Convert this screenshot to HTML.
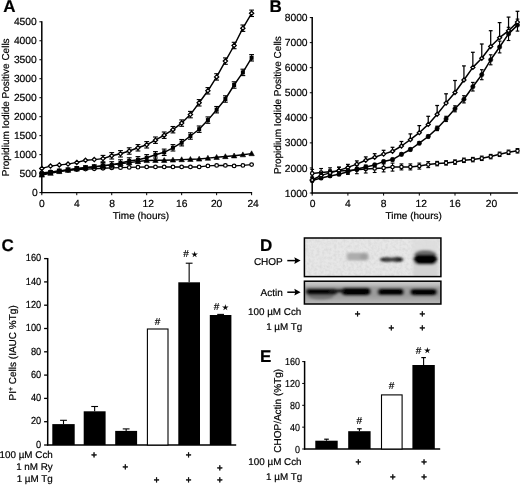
<!DOCTYPE html>
<html><head><meta charset="utf-8"><title>Figure</title>
<style>
html,body{margin:0;padding:0;background:#fff;}
body{width:520px;height:485px;overflow:hidden;}
svg{display:block;font-family:"Liberation Sans","DejaVu Sans",sans-serif;fill:#000;}
text{stroke:#000;stroke-width:0.2px;}
svg{filter:blur(0.5px);text-rendering:geometricPrecision;}
</style></head><body>
<svg width="520" height="485" viewBox="0 0 520 485">
<defs>
<filter id="b2" x="-20%" y="-50%" width="140%" height="200%"><feGaussianBlur stdDeviation="1.5 1.25"/></filter>
<filter id="nz" x="0" y="0" width="100%" height="100%"><feTurbulence type="fractalNoise" baseFrequency="0.35" numOctaves="2" seed="3" result="n"/><feColorMatrix in="n" type="matrix" values="0 0 0 0 0.5  0 0 0 0 0.5  0 0 0 0 0.5  1.6 0 0 0 -0.55"/></filter>
<linearGradient id="ag" x1="0" y1="0" x2="0" y2="1"><stop offset="0" stop-color="#cdcdcd"/><stop offset="0.3" stop-color="#b0b0b0"/><stop offset="0.75" stop-color="#a4a4a4"/><stop offset="1" stop-color="#b8b8b8"/></linearGradient>
<clipPath id="c1"><rect x="304.4" y="238.0" width="136.5" height="38.6"/></clipPath>
<clipPath id="c2"><rect x="304.4" y="281.2" width="136.5" height="22.8"/></clipPath>
</defs>
<rect width="520" height="485" fill="#fff"/>
<text x="3.2" y="11.9" font-size="17" text-anchor="start" font-weight="bold" >A</text>
<line x1="41.8" y1="21.3" x2="41.8" y2="193.2" stroke="#000" stroke-width="1.5"/>
<line x1="41.2" y1="192.6" x2="252.11" y2="192.6" stroke="#000" stroke-width="1.3"/>
<line x1="39.4" y1="192.6" x2="41.8" y2="192.6" stroke="#000" stroke-width="1.0"/>
<text x="37.8" y="196.2" font-size="10.3" text-anchor="end" font-weight="normal" >0</text>
<line x1="39.4" y1="173.62" x2="41.8" y2="173.62" stroke="#000" stroke-width="1.0"/>
<text x="36.8" y="177.22" font-size="10.3" text-anchor="end" font-weight="normal" >500</text>
<line x1="39.4" y1="154.64" x2="41.8" y2="154.64" stroke="#000" stroke-width="1.0"/>
<text x="36.8" y="158.24" font-size="10.3" text-anchor="end" font-weight="normal" >1000</text>
<line x1="39.4" y1="135.67" x2="41.8" y2="135.67" stroke="#000" stroke-width="1.0"/>
<text x="36.8" y="139.27" font-size="10.3" text-anchor="end" font-weight="normal" >1500</text>
<line x1="39.4" y1="116.69" x2="41.8" y2="116.69" stroke="#000" stroke-width="1.0"/>
<text x="36.8" y="120.29" font-size="10.3" text-anchor="end" font-weight="normal" >2000</text>
<line x1="39.4" y1="97.71" x2="41.8" y2="97.71" stroke="#000" stroke-width="1.0"/>
<text x="36.8" y="101.31" font-size="10.3" text-anchor="end" font-weight="normal" >2500</text>
<line x1="39.4" y1="78.73" x2="41.8" y2="78.73" stroke="#000" stroke-width="1.0"/>
<text x="36.8" y="82.33" font-size="10.3" text-anchor="end" font-weight="normal" >3000</text>
<line x1="39.4" y1="59.76" x2="41.8" y2="59.76" stroke="#000" stroke-width="1.0"/>
<text x="36.8" y="63.36" font-size="10.3" text-anchor="end" font-weight="normal" >3500</text>
<line x1="39.4" y1="40.78" x2="41.8" y2="40.78" stroke="#000" stroke-width="1.0"/>
<text x="36.8" y="44.38" font-size="10.3" text-anchor="end" font-weight="normal" >4000</text>
<line x1="39.4" y1="21.8" x2="41.8" y2="21.8" stroke="#000" stroke-width="1.0"/>
<text x="36.8" y="25.4" font-size="10.3" text-anchor="end" font-weight="normal" >4500</text>
<line x1="41.8" y1="192.6" x2="41.8" y2="195.2" stroke="#000" stroke-width="1.0"/>
<text x="41.8" y="206.9" font-size="10.3" text-anchor="middle" font-weight="normal" >0</text>
<line x1="76.77" y1="192.6" x2="76.77" y2="195.2" stroke="#000" stroke-width="1.0"/>
<text x="76.77" y="206.9" font-size="10.3" text-anchor="middle" font-weight="normal" >4</text>
<line x1="111.74" y1="192.6" x2="111.74" y2="195.2" stroke="#000" stroke-width="1.0"/>
<text x="112.24" y="206.9" font-size="10.3" text-anchor="middle" font-weight="normal" >8</text>
<line x1="146.7" y1="192.6" x2="146.7" y2="195.2" stroke="#000" stroke-width="1.0"/>
<text x="148.3" y="206.9" font-size="10.3" text-anchor="middle" font-weight="normal" >12</text>
<line x1="181.67" y1="192.6" x2="181.67" y2="195.2" stroke="#000" stroke-width="1.0"/>
<text x="181.67" y="206.9" font-size="10.3" text-anchor="middle" font-weight="normal" >16</text>
<line x1="216.64" y1="192.6" x2="216.64" y2="195.2" stroke="#000" stroke-width="1.0"/>
<text x="216.64" y="206.9" font-size="10.3" text-anchor="middle" font-weight="normal" >20</text>
<line x1="251.61" y1="192.6" x2="251.61" y2="195.2" stroke="#000" stroke-width="1.0"/>
<text x="253.11" y="206.9" font-size="10.3" text-anchor="middle" font-weight="normal" >24</text>
<text x="141" y="218.8" font-size="10" text-anchor="middle" font-weight="normal" >Time (hours)</text>
<text transform="translate(9.3 107.3) rotate(-90)" font-size="10" text-anchor="middle">Propidium Iodide Positive Cells</text>
<polyline points="41.8,173 50.54,172 59.28,171 68.03,170.25 76.77,169.5 85.51,169.1 94.25,168.7 102.99,168.3 111.74,167.9 120.48,167.65 129.22,167.4 137.96,167.15 146.7,166.9 155.45,166.9 164.19,166.9 172.93,166.9 181.67,166.9 190.41,166.9 199.16,166.9 207.9,165.9 216.64,165.4 225.38,165.4 234.12,165.9 242.87,165.4 251.61,164.6" fill="none" stroke="#000" stroke-width="1.45" stroke-linejoin="round"/>
<circle cx="41.8" cy="173" r="1.8" fill="#fff" stroke="#000" stroke-width="1.25"/>
<circle cx="50.54" cy="172" r="1.8" fill="#fff" stroke="#000" stroke-width="1.25"/>
<circle cx="59.28" cy="171" r="1.8" fill="#fff" stroke="#000" stroke-width="1.25"/>
<circle cx="68.03" cy="170.25" r="1.8" fill="#fff" stroke="#000" stroke-width="1.25"/>
<circle cx="76.77" cy="169.5" r="1.8" fill="#fff" stroke="#000" stroke-width="1.25"/>
<circle cx="85.51" cy="169.1" r="1.8" fill="#fff" stroke="#000" stroke-width="1.25"/>
<circle cx="94.25" cy="168.7" r="1.8" fill="#fff" stroke="#000" stroke-width="1.25"/>
<circle cx="102.99" cy="168.3" r="1.8" fill="#fff" stroke="#000" stroke-width="1.25"/>
<circle cx="111.74" cy="167.9" r="1.8" fill="#fff" stroke="#000" stroke-width="1.25"/>
<circle cx="120.48" cy="167.65" r="1.8" fill="#fff" stroke="#000" stroke-width="1.25"/>
<circle cx="129.22" cy="167.4" r="1.8" fill="#fff" stroke="#000" stroke-width="1.25"/>
<circle cx="137.96" cy="167.15" r="1.8" fill="#fff" stroke="#000" stroke-width="1.25"/>
<circle cx="146.7" cy="166.9" r="1.8" fill="#fff" stroke="#000" stroke-width="1.25"/>
<circle cx="155.45" cy="166.9" r="1.8" fill="#fff" stroke="#000" stroke-width="1.25"/>
<circle cx="164.19" cy="166.9" r="1.8" fill="#fff" stroke="#000" stroke-width="1.25"/>
<circle cx="172.93" cy="166.9" r="1.8" fill="#fff" stroke="#000" stroke-width="1.25"/>
<circle cx="181.67" cy="166.9" r="1.8" fill="#fff" stroke="#000" stroke-width="1.25"/>
<circle cx="190.41" cy="166.9" r="1.8" fill="#fff" stroke="#000" stroke-width="1.25"/>
<circle cx="199.16" cy="166.9" r="1.8" fill="#fff" stroke="#000" stroke-width="1.25"/>
<circle cx="207.9" cy="165.9" r="1.8" fill="#fff" stroke="#000" stroke-width="1.25"/>
<circle cx="216.64" cy="165.4" r="1.8" fill="#fff" stroke="#000" stroke-width="1.25"/>
<circle cx="225.38" cy="165.4" r="1.8" fill="#fff" stroke="#000" stroke-width="1.25"/>
<circle cx="234.12" cy="165.9" r="1.8" fill="#fff" stroke="#000" stroke-width="1.25"/>
<circle cx="242.87" cy="165.4" r="1.8" fill="#fff" stroke="#000" stroke-width="1.25"/>
<circle cx="251.61" cy="164.6" r="1.8" fill="#fff" stroke="#000" stroke-width="1.25"/>
<polyline points="41.8,175 50.54,173.25 59.28,171.5 68.03,170.25 76.77,169 85.51,167.95 94.25,166.9 102.99,165.85 111.74,164.8 120.48,163.73 129.22,162.65 137.96,161.57 146.7,160.5 155.45,160.3 164.19,160.3 172.93,159.95 181.67,159.6 190.41,159.3 199.16,159 207.9,158.15 216.64,157.3 225.38,156.55 234.12,155.8 242.87,154.7 251.61,153.6" fill="none" stroke="#000" stroke-width="1.45" stroke-linejoin="round"/>
<path d="M41.8 172.2L44.5 177.1L39.1 177.1Z" fill="#000" stroke="#000" stroke-width="0.6"/>
<path d="M50.54 170.45L53.24 175.35L47.84 175.35Z" fill="#000" stroke="#000" stroke-width="0.6"/>
<path d="M59.28 168.7L61.98 173.6L56.58 173.6Z" fill="#000" stroke="#000" stroke-width="0.6"/>
<path d="M68.03 167.45L70.73 172.35L65.33 172.35Z" fill="#000" stroke="#000" stroke-width="0.6"/>
<path d="M76.77 166.2L79.47 171.1L74.07 171.1Z" fill="#000" stroke="#000" stroke-width="0.6"/>
<path d="M85.51 165.15L88.21 170.05L82.81 170.05Z" fill="#000" stroke="#000" stroke-width="0.6"/>
<path d="M94.25 164.1L96.95 169L91.55 169Z" fill="#000" stroke="#000" stroke-width="0.6"/>
<path d="M102.99 163.05L105.69 167.95L100.29 167.95Z" fill="#000" stroke="#000" stroke-width="0.6"/>
<path d="M111.74 162L114.44 166.9L109.04 166.9Z" fill="#000" stroke="#000" stroke-width="0.6"/>
<path d="M120.48 160.93L123.18 165.83L117.78 165.83Z" fill="#000" stroke="#000" stroke-width="0.6"/>
<path d="M129.22 159.85L131.92 164.75L126.52 164.75Z" fill="#000" stroke="#000" stroke-width="0.6"/>
<path d="M137.96 158.77L140.66 163.67L135.26 163.67Z" fill="#000" stroke="#000" stroke-width="0.6"/>
<path d="M146.7 157.7L149.4 162.6L144 162.6Z" fill="#000" stroke="#000" stroke-width="0.6"/>
<path d="M155.45 157.5L158.15 162.4L152.75 162.4Z" fill="#000" stroke="#000" stroke-width="0.6"/>
<path d="M164.19 157.5L166.89 162.4L161.49 162.4Z" fill="#000" stroke="#000" stroke-width="0.6"/>
<path d="M172.93 157.15L175.63 162.05L170.23 162.05Z" fill="#000" stroke="#000" stroke-width="0.6"/>
<path d="M181.67 156.8L184.37 161.7L178.97 161.7Z" fill="#000" stroke="#000" stroke-width="0.6"/>
<path d="M190.41 156.5L193.11 161.4L187.71 161.4Z" fill="#000" stroke="#000" stroke-width="0.6"/>
<path d="M199.16 156.2L201.86 161.1L196.46 161.1Z" fill="#000" stroke="#000" stroke-width="0.6"/>
<path d="M207.9 155.35L210.6 160.25L205.2 160.25Z" fill="#000" stroke="#000" stroke-width="0.6"/>
<path d="M216.64 154.5L219.34 159.4L213.94 159.4Z" fill="#000" stroke="#000" stroke-width="0.6"/>
<path d="M225.38 153.75L228.08 158.65L222.68 158.65Z" fill="#000" stroke="#000" stroke-width="0.6"/>
<path d="M234.12 153L236.82 157.9L231.42 157.9Z" fill="#000" stroke="#000" stroke-width="0.6"/>
<path d="M242.87 151.9L245.57 156.8L240.17 156.8Z" fill="#000" stroke="#000" stroke-width="0.6"/>
<path d="M251.61 150.8L254.31 155.7L248.91 155.7Z" fill="#000" stroke="#000" stroke-width="0.6"/>
<polyline points="41.8,174.2 50.54,172.5 59.28,171 68.03,169.7 76.77,168.4 85.51,167.5 94.25,166.6 102.99,165.8 111.74,164.9 120.48,163 129.22,161 137.96,159.8 146.7,157.8 155.45,154.8 164.19,152.3 172.93,147.8 181.67,142.7 190.41,136 199.16,129.2 207.9,120.1 216.64,109.7 225.38,99 234.12,85 242.87,72.4 251.61,57.8" fill="none" stroke="#000" stroke-width="1.45" stroke-linejoin="round"/>
<rect x="39.4" y="171.8" width="4.8" height="4.8" fill="#000"/>
<rect x="48.14" y="170.1" width="4.8" height="4.8" fill="#000"/>
<rect x="56.88" y="168.6" width="4.8" height="4.8" fill="#000"/>
<rect x="65.63" y="167.3" width="4.8" height="4.8" fill="#000"/>
<rect x="74.37" y="166" width="4.8" height="4.8" fill="#000"/>
<rect x="83.11" y="165.1" width="4.8" height="4.8" fill="#000"/>
<rect x="91.85" y="164.2" width="4.8" height="4.8" fill="#000"/>
<line x1="102.99" y1="162.6" x2="102.99" y2="169" stroke="#000" stroke-width="1.1"/>
<line x1="100.59" y1="162.6" x2="105.39" y2="162.6" stroke="#000" stroke-width="1.1"/>
<line x1="100.59" y1="169" x2="105.39" y2="169" stroke="#000" stroke-width="1.1"/>
<rect x="100.59" y="163.4" width="4.8" height="4.8" fill="#000"/>
<line x1="111.74" y1="161.7" x2="111.74" y2="168.1" stroke="#000" stroke-width="1.1"/>
<line x1="109.34" y1="161.7" x2="114.14" y2="161.7" stroke="#000" stroke-width="1.1"/>
<line x1="109.34" y1="168.1" x2="114.14" y2="168.1" stroke="#000" stroke-width="1.1"/>
<rect x="109.74" y="162.9" width="4" height="4" fill="#000"/>
<line x1="120.48" y1="159.8" x2="120.48" y2="166.2" stroke="#000" stroke-width="1.1"/>
<line x1="118.08" y1="159.8" x2="122.88" y2="159.8" stroke="#000" stroke-width="1.1"/>
<line x1="118.08" y1="166.2" x2="122.88" y2="166.2" stroke="#000" stroke-width="1.1"/>
<rect x="118.48" y="161" width="4" height="4" fill="#000"/>
<line x1="129.22" y1="157.8" x2="129.22" y2="164.2" stroke="#000" stroke-width="1.1"/>
<line x1="126.82" y1="157.8" x2="131.62" y2="157.8" stroke="#000" stroke-width="1.1"/>
<line x1="126.82" y1="164.2" x2="131.62" y2="164.2" stroke="#000" stroke-width="1.1"/>
<rect x="127.22" y="159" width="4" height="4" fill="#000"/>
<line x1="137.96" y1="156.6" x2="137.96" y2="163" stroke="#000" stroke-width="1.1"/>
<line x1="135.56" y1="156.6" x2="140.36" y2="156.6" stroke="#000" stroke-width="1.1"/>
<line x1="135.56" y1="163" x2="140.36" y2="163" stroke="#000" stroke-width="1.1"/>
<rect x="135.96" y="157.8" width="4" height="4" fill="#000"/>
<line x1="146.7" y1="154.6" x2="146.7" y2="161" stroke="#000" stroke-width="1.1"/>
<line x1="144.3" y1="154.6" x2="149.1" y2="154.6" stroke="#000" stroke-width="1.1"/>
<line x1="144.3" y1="161" x2="149.1" y2="161" stroke="#000" stroke-width="1.1"/>
<rect x="144.7" y="155.8" width="4" height="4" fill="#000"/>
<line x1="155.45" y1="151.6" x2="155.45" y2="158" stroke="#000" stroke-width="1.1"/>
<line x1="153.05" y1="151.6" x2="157.85" y2="151.6" stroke="#000" stroke-width="1.1"/>
<line x1="153.05" y1="158" x2="157.85" y2="158" stroke="#000" stroke-width="1.1"/>
<rect x="153.45" y="152.8" width="4" height="4" fill="#000"/>
<line x1="164.19" y1="149.1" x2="164.19" y2="155.5" stroke="#000" stroke-width="1.1"/>
<line x1="161.79" y1="149.1" x2="166.59" y2="149.1" stroke="#000" stroke-width="1.1"/>
<line x1="161.79" y1="155.5" x2="166.59" y2="155.5" stroke="#000" stroke-width="1.1"/>
<rect x="162.19" y="150.3" width="4" height="4" fill="#000"/>
<line x1="172.93" y1="144.6" x2="172.93" y2="151" stroke="#000" stroke-width="1.1"/>
<line x1="170.53" y1="144.6" x2="175.33" y2="144.6" stroke="#000" stroke-width="1.1"/>
<line x1="170.53" y1="151" x2="175.33" y2="151" stroke="#000" stroke-width="1.1"/>
<rect x="170.93" y="145.8" width="4" height="4" fill="#000"/>
<line x1="181.67" y1="139.5" x2="181.67" y2="145.9" stroke="#000" stroke-width="1.1"/>
<line x1="179.27" y1="139.5" x2="184.07" y2="139.5" stroke="#000" stroke-width="1.1"/>
<line x1="179.27" y1="145.9" x2="184.07" y2="145.9" stroke="#000" stroke-width="1.1"/>
<rect x="179.67" y="140.7" width="4" height="4" fill="#000"/>
<line x1="190.41" y1="132.8" x2="190.41" y2="139.2" stroke="#000" stroke-width="1.1"/>
<line x1="188.01" y1="132.8" x2="192.81" y2="132.8" stroke="#000" stroke-width="1.1"/>
<line x1="188.01" y1="139.2" x2="192.81" y2="139.2" stroke="#000" stroke-width="1.1"/>
<rect x="188.41" y="134" width="4" height="4" fill="#000"/>
<line x1="199.16" y1="126" x2="199.16" y2="132.4" stroke="#000" stroke-width="1.1"/>
<line x1="196.76" y1="126" x2="201.56" y2="126" stroke="#000" stroke-width="1.1"/>
<line x1="196.76" y1="132.4" x2="201.56" y2="132.4" stroke="#000" stroke-width="1.1"/>
<rect x="197.16" y="127.2" width="4" height="4" fill="#000"/>
<line x1="207.9" y1="116.9" x2="207.9" y2="123.3" stroke="#000" stroke-width="1.1"/>
<line x1="205.5" y1="116.9" x2="210.3" y2="116.9" stroke="#000" stroke-width="1.1"/>
<line x1="205.5" y1="123.3" x2="210.3" y2="123.3" stroke="#000" stroke-width="1.1"/>
<rect x="205.9" y="118.1" width="4" height="4" fill="#000"/>
<line x1="216.64" y1="106.5" x2="216.64" y2="112.9" stroke="#000" stroke-width="1.1"/>
<line x1="214.24" y1="106.5" x2="219.04" y2="106.5" stroke="#000" stroke-width="1.1"/>
<line x1="214.24" y1="112.9" x2="219.04" y2="112.9" stroke="#000" stroke-width="1.1"/>
<rect x="214.64" y="107.7" width="4" height="4" fill="#000"/>
<line x1="225.38" y1="95.8" x2="225.38" y2="102.2" stroke="#000" stroke-width="1.1"/>
<line x1="222.98" y1="95.8" x2="227.78" y2="95.8" stroke="#000" stroke-width="1.1"/>
<line x1="222.98" y1="102.2" x2="227.78" y2="102.2" stroke="#000" stroke-width="1.1"/>
<rect x="223.38" y="97" width="4" height="4" fill="#000"/>
<line x1="234.12" y1="81.8" x2="234.12" y2="88.2" stroke="#000" stroke-width="1.1"/>
<line x1="231.72" y1="81.8" x2="236.52" y2="81.8" stroke="#000" stroke-width="1.1"/>
<line x1="231.72" y1="88.2" x2="236.52" y2="88.2" stroke="#000" stroke-width="1.1"/>
<rect x="232.12" y="83" width="4" height="4" fill="#000"/>
<line x1="242.87" y1="69.2" x2="242.87" y2="75.6" stroke="#000" stroke-width="1.1"/>
<line x1="240.47" y1="69.2" x2="245.27" y2="69.2" stroke="#000" stroke-width="1.1"/>
<line x1="240.47" y1="75.6" x2="245.27" y2="75.6" stroke="#000" stroke-width="1.1"/>
<rect x="240.87" y="70.4" width="4" height="4" fill="#000"/>
<line x1="251.61" y1="54.6" x2="251.61" y2="61" stroke="#000" stroke-width="1.1"/>
<line x1="249.21" y1="54.6" x2="254.01" y2="54.6" stroke="#000" stroke-width="1.1"/>
<line x1="249.21" y1="61" x2="254.01" y2="61" stroke="#000" stroke-width="1.1"/>
<rect x="249.61" y="55.8" width="4" height="4" fill="#000"/>
<polyline points="41.8,168.4 50.54,166.1 59.28,164.9 68.03,164.1 76.77,162.4 85.51,160.3 94.25,159.6 102.99,158.6 111.74,155.8 120.48,153.8 129.22,151 137.96,147.8 146.7,144.8 155.45,140.2 164.19,135.2 172.93,129.7 181.67,123.1 190.41,114.6 199.16,102.8 207.9,90.8 216.64,76.9 225.38,61.1 234.12,45.5 242.87,28.2 251.61,13.3" fill="none" stroke="#000" stroke-width="1.45" stroke-linejoin="round"/>
<path d="M41.8 166.3L43.9 168.4L41.8 170.5L39.7 168.4Z" fill="#fff" stroke="#000" stroke-width="1.3"/>
<path d="M50.54 164L52.64 166.1L50.54 168.2L48.44 166.1Z" fill="#fff" stroke="#000" stroke-width="1.3"/>
<path d="M59.28 162.8L61.38 164.9L59.28 167L57.18 164.9Z" fill="#fff" stroke="#000" stroke-width="1.3"/>
<path d="M68.03 162L70.13 164.1L68.03 166.2L65.93 164.1Z" fill="#fff" stroke="#000" stroke-width="1.3"/>
<path d="M76.77 160.3L78.87 162.4L76.77 164.5L74.67 162.4Z" fill="#fff" stroke="#000" stroke-width="1.3"/>
<path d="M85.51 158.2L87.61 160.3L85.51 162.4L83.41 160.3Z" fill="#fff" stroke="#000" stroke-width="1.3"/>
<path d="M94.25 157.5L96.35 159.6L94.25 161.7L92.15 159.6Z" fill="#fff" stroke="#000" stroke-width="1.3"/>
<line x1="102.99" y1="155.4" x2="102.99" y2="161.8" stroke="#000" stroke-width="1.1"/>
<line x1="100.59" y1="155.4" x2="105.39" y2="155.4" stroke="#000" stroke-width="1.1"/>
<line x1="100.59" y1="161.8" x2="105.39" y2="161.8" stroke="#000" stroke-width="1.1"/>
<path d="M102.99 156.5L105.09 158.6L102.99 160.7L100.89 158.6Z" fill="#fff" stroke="#000" stroke-width="1.3"/>
<line x1="111.74" y1="152.6" x2="111.74" y2="159" stroke="#000" stroke-width="1.1"/>
<line x1="109.34" y1="152.6" x2="114.14" y2="152.6" stroke="#000" stroke-width="1.1"/>
<line x1="109.34" y1="159" x2="114.14" y2="159" stroke="#000" stroke-width="1.1"/>
<path d="M111.74 153.7L113.84 155.8L111.74 157.9L109.64 155.8Z" fill="#fff" stroke="#000" stroke-width="1.3"/>
<line x1="120.48" y1="150.6" x2="120.48" y2="157" stroke="#000" stroke-width="1.1"/>
<line x1="118.08" y1="150.6" x2="122.88" y2="150.6" stroke="#000" stroke-width="1.1"/>
<line x1="118.08" y1="157" x2="122.88" y2="157" stroke="#000" stroke-width="1.1"/>
<path d="M120.48 151.7L122.58 153.8L120.48 155.9L118.38 153.8Z" fill="#fff" stroke="#000" stroke-width="1.3"/>
<line x1="129.22" y1="147.8" x2="129.22" y2="154.2" stroke="#000" stroke-width="1.1"/>
<line x1="126.82" y1="147.8" x2="131.62" y2="147.8" stroke="#000" stroke-width="1.1"/>
<line x1="126.82" y1="154.2" x2="131.62" y2="154.2" stroke="#000" stroke-width="1.1"/>
<path d="M129.22 148.9L131.32 151L129.22 153.1L127.12 151Z" fill="#fff" stroke="#000" stroke-width="1.3"/>
<line x1="137.96" y1="144.6" x2="137.96" y2="151" stroke="#000" stroke-width="1.1"/>
<line x1="135.56" y1="144.6" x2="140.36" y2="144.6" stroke="#000" stroke-width="1.1"/>
<line x1="135.56" y1="151" x2="140.36" y2="151" stroke="#000" stroke-width="1.1"/>
<path d="M137.96 145.7L140.06 147.8L137.96 149.9L135.86 147.8Z" fill="#fff" stroke="#000" stroke-width="1.3"/>
<line x1="146.7" y1="141.6" x2="146.7" y2="148" stroke="#000" stroke-width="1.1"/>
<line x1="144.3" y1="141.6" x2="149.1" y2="141.6" stroke="#000" stroke-width="1.1"/>
<line x1="144.3" y1="148" x2="149.1" y2="148" stroke="#000" stroke-width="1.1"/>
<path d="M146.7 142.7L148.8 144.8L146.7 146.9L144.6 144.8Z" fill="#fff" stroke="#000" stroke-width="1.3"/>
<line x1="155.45" y1="137" x2="155.45" y2="143.4" stroke="#000" stroke-width="1.1"/>
<line x1="153.05" y1="137" x2="157.85" y2="137" stroke="#000" stroke-width="1.1"/>
<line x1="153.05" y1="143.4" x2="157.85" y2="143.4" stroke="#000" stroke-width="1.1"/>
<path d="M155.45 138.1L157.55 140.2L155.45 142.3L153.35 140.2Z" fill="#fff" stroke="#000" stroke-width="1.3"/>
<line x1="164.19" y1="132" x2="164.19" y2="138.4" stroke="#000" stroke-width="1.1"/>
<line x1="161.79" y1="132" x2="166.59" y2="132" stroke="#000" stroke-width="1.1"/>
<line x1="161.79" y1="138.4" x2="166.59" y2="138.4" stroke="#000" stroke-width="1.1"/>
<path d="M164.19 133.1L166.29 135.2L164.19 137.3L162.09 135.2Z" fill="#fff" stroke="#000" stroke-width="1.3"/>
<line x1="172.93" y1="126.5" x2="172.93" y2="132.9" stroke="#000" stroke-width="1.1"/>
<line x1="170.53" y1="126.5" x2="175.33" y2="126.5" stroke="#000" stroke-width="1.1"/>
<line x1="170.53" y1="132.9" x2="175.33" y2="132.9" stroke="#000" stroke-width="1.1"/>
<path d="M172.93 127.6L175.03 129.7L172.93 131.8L170.83 129.7Z" fill="#fff" stroke="#000" stroke-width="1.3"/>
<line x1="181.67" y1="119.9" x2="181.67" y2="126.3" stroke="#000" stroke-width="1.1"/>
<line x1="179.27" y1="119.9" x2="184.07" y2="119.9" stroke="#000" stroke-width="1.1"/>
<line x1="179.27" y1="126.3" x2="184.07" y2="126.3" stroke="#000" stroke-width="1.1"/>
<path d="M181.67 121L183.77 123.1L181.67 125.2L179.57 123.1Z" fill="#fff" stroke="#000" stroke-width="1.3"/>
<line x1="190.41" y1="111.4" x2="190.41" y2="117.8" stroke="#000" stroke-width="1.1"/>
<line x1="188.01" y1="111.4" x2="192.81" y2="111.4" stroke="#000" stroke-width="1.1"/>
<line x1="188.01" y1="117.8" x2="192.81" y2="117.8" stroke="#000" stroke-width="1.1"/>
<path d="M190.41 112.5L192.51 114.6L190.41 116.7L188.31 114.6Z" fill="#fff" stroke="#000" stroke-width="1.3"/>
<line x1="199.16" y1="99.6" x2="199.16" y2="106" stroke="#000" stroke-width="1.1"/>
<line x1="196.76" y1="99.6" x2="201.56" y2="99.6" stroke="#000" stroke-width="1.1"/>
<line x1="196.76" y1="106" x2="201.56" y2="106" stroke="#000" stroke-width="1.1"/>
<path d="M199.16 100.7L201.26 102.8L199.16 104.9L197.06 102.8Z" fill="#fff" stroke="#000" stroke-width="1.3"/>
<line x1="207.9" y1="87.6" x2="207.9" y2="94" stroke="#000" stroke-width="1.1"/>
<line x1="205.5" y1="87.6" x2="210.3" y2="87.6" stroke="#000" stroke-width="1.1"/>
<line x1="205.5" y1="94" x2="210.3" y2="94" stroke="#000" stroke-width="1.1"/>
<path d="M207.9 88.7L210 90.8L207.9 92.9L205.8 90.8Z" fill="#fff" stroke="#000" stroke-width="1.3"/>
<line x1="216.64" y1="73.7" x2="216.64" y2="80.1" stroke="#000" stroke-width="1.1"/>
<line x1="214.24" y1="73.7" x2="219.04" y2="73.7" stroke="#000" stroke-width="1.1"/>
<line x1="214.24" y1="80.1" x2="219.04" y2="80.1" stroke="#000" stroke-width="1.1"/>
<path d="M216.64 74.8L218.74 76.9L216.64 79L214.54 76.9Z" fill="#fff" stroke="#000" stroke-width="1.3"/>
<line x1="225.38" y1="57.9" x2="225.38" y2="64.3" stroke="#000" stroke-width="1.1"/>
<line x1="222.98" y1="57.9" x2="227.78" y2="57.9" stroke="#000" stroke-width="1.1"/>
<line x1="222.98" y1="64.3" x2="227.78" y2="64.3" stroke="#000" stroke-width="1.1"/>
<path d="M225.38 59L227.48 61.1L225.38 63.2L223.28 61.1Z" fill="#fff" stroke="#000" stroke-width="1.3"/>
<line x1="234.12" y1="42.3" x2="234.12" y2="48.7" stroke="#000" stroke-width="1.1"/>
<line x1="231.72" y1="42.3" x2="236.52" y2="42.3" stroke="#000" stroke-width="1.1"/>
<line x1="231.72" y1="48.7" x2="236.52" y2="48.7" stroke="#000" stroke-width="1.1"/>
<path d="M234.12 43.4L236.22 45.5L234.12 47.6L232.02 45.5Z" fill="#fff" stroke="#000" stroke-width="1.3"/>
<line x1="242.87" y1="25" x2="242.87" y2="31.4" stroke="#000" stroke-width="1.1"/>
<line x1="240.47" y1="25" x2="245.27" y2="25" stroke="#000" stroke-width="1.1"/>
<line x1="240.47" y1="31.4" x2="245.27" y2="31.4" stroke="#000" stroke-width="1.1"/>
<path d="M242.87 26.1L244.97 28.2L242.87 30.3L240.77 28.2Z" fill="#fff" stroke="#000" stroke-width="1.3"/>
<line x1="251.61" y1="10.1" x2="251.61" y2="16.5" stroke="#000" stroke-width="1.1"/>
<line x1="249.21" y1="10.1" x2="254.01" y2="10.1" stroke="#000" stroke-width="1.1"/>
<line x1="249.21" y1="16.5" x2="254.01" y2="16.5" stroke="#000" stroke-width="1.1"/>
<path d="M251.61 11.2L253.71 13.3L251.61 15.4L249.51 13.3Z" fill="#fff" stroke="#000" stroke-width="1.3"/>
<text x="269.6" y="11.9" font-size="17" text-anchor="start" font-weight="bold" >B</text>
<line x1="312.2" y1="17" x2="312.2" y2="193.6" stroke="#000" stroke-width="1.5"/>
<line x1="311.6" y1="193" x2="517.9" y2="193" stroke="#000" stroke-width="1.3"/>
<line x1="309.8" y1="193" x2="312.2" y2="193" stroke="#000" stroke-width="1.0"/>
<text x="307.6" y="196.6" font-size="10.3" text-anchor="end" font-weight="normal" >1000</text>
<line x1="309.8" y1="167.94" x2="312.2" y2="167.94" stroke="#000" stroke-width="1.0"/>
<text x="307.6" y="171.54" font-size="10.3" text-anchor="end" font-weight="normal" >2000</text>
<line x1="309.8" y1="142.88" x2="312.2" y2="142.88" stroke="#000" stroke-width="1.0"/>
<text x="307.6" y="146.48" font-size="10.3" text-anchor="end" font-weight="normal" >3000</text>
<line x1="309.8" y1="117.82" x2="312.2" y2="117.82" stroke="#000" stroke-width="1.0"/>
<text x="307.6" y="121.42" font-size="10.3" text-anchor="end" font-weight="normal" >4000</text>
<line x1="309.8" y1="92.76" x2="312.2" y2="92.76" stroke="#000" stroke-width="1.0"/>
<text x="307.6" y="96.36" font-size="10.3" text-anchor="end" font-weight="normal" >5000</text>
<line x1="309.8" y1="67.7" x2="312.2" y2="67.7" stroke="#000" stroke-width="1.0"/>
<text x="307.6" y="71.3" font-size="10.3" text-anchor="end" font-weight="normal" >6000</text>
<line x1="309.8" y1="42.64" x2="312.2" y2="42.64" stroke="#000" stroke-width="1.0"/>
<text x="307.6" y="46.24" font-size="10.3" text-anchor="end" font-weight="normal" >7000</text>
<line x1="309.8" y1="17.58" x2="312.2" y2="17.58" stroke="#000" stroke-width="1.0"/>
<text x="307.6" y="21.18" font-size="10.3" text-anchor="end" font-weight="normal" >8000</text>
<line x1="312.2" y1="193" x2="312.2" y2="195.6" stroke="#000" stroke-width="1.0"/>
<text x="312.6" y="206.9" font-size="10.3" text-anchor="middle" font-weight="normal" >0</text>
<line x1="347.9" y1="193" x2="347.9" y2="195.6" stroke="#000" stroke-width="1.0"/>
<text x="347.9" y="206.9" font-size="10.3" text-anchor="middle" font-weight="normal" >4</text>
<line x1="383.6" y1="193" x2="383.6" y2="195.6" stroke="#000" stroke-width="1.0"/>
<text x="383.6" y="206.9" font-size="10.3" text-anchor="middle" font-weight="normal" >8</text>
<line x1="419.3" y1="193" x2="419.3" y2="195.6" stroke="#000" stroke-width="1.0"/>
<text x="421.3" y="206.9" font-size="10.3" text-anchor="middle" font-weight="normal" >12</text>
<line x1="455" y1="193" x2="455" y2="195.6" stroke="#000" stroke-width="1.0"/>
<text x="455" y="206.9" font-size="10.3" text-anchor="middle" font-weight="normal" >16</text>
<line x1="490.7" y1="193" x2="490.7" y2="195.6" stroke="#000" stroke-width="1.0"/>
<text x="491.5" y="206.9" font-size="10.3" text-anchor="middle" font-weight="normal" >20</text>
<text x="413.7" y="218.8" font-size="10" text-anchor="middle" font-weight="normal" >Time (hours)</text>
<text transform="translate(281 105.1) rotate(-90)" font-size="10" text-anchor="middle">Propidium Iodide Positive Cells</text>
<polyline points="312.2,173.4 321.12,172.5 330.05,171.8 338.97,171 347.9,170.4 356.82,169.7 365.75,169 374.68,168.5 383.6,167.9 392.52,167.1 401.45,166.9 410.38,166.9 419.3,166.1 428.23,164.6 437.15,163.6 446.07,162.9 455,162.1 463.93,160.3 472.85,159.6 481.77,158.3 490.7,156.6 499.62,154.3 508.55,152.3 517.48,150.8" fill="none" stroke="#000" stroke-width="1.5" stroke-linejoin="round"/>
<line x1="312.2" y1="169.4" x2="312.2" y2="177.4" stroke="#000" stroke-width="1.1"/>
<line x1="310.3" y1="169.4" x2="314.1" y2="169.4" stroke="#000" stroke-width="1.1"/>
<line x1="310.3" y1="177.4" x2="314.1" y2="177.4" stroke="#000" stroke-width="1.1"/>
<circle cx="312.2" cy="173.4" r="1.7" fill="#fff" stroke="#000" stroke-width="1.25"/>
<line x1="321.12" y1="168.5" x2="321.12" y2="176.5" stroke="#000" stroke-width="1.1"/>
<line x1="319.23" y1="168.5" x2="323.02" y2="168.5" stroke="#000" stroke-width="1.1"/>
<line x1="319.23" y1="176.5" x2="323.02" y2="176.5" stroke="#000" stroke-width="1.1"/>
<circle cx="321.12" cy="172.5" r="1.7" fill="#fff" stroke="#000" stroke-width="1.25"/>
<line x1="330.05" y1="167.8" x2="330.05" y2="175.8" stroke="#000" stroke-width="1.1"/>
<line x1="328.15" y1="167.8" x2="331.95" y2="167.8" stroke="#000" stroke-width="1.1"/>
<line x1="328.15" y1="175.8" x2="331.95" y2="175.8" stroke="#000" stroke-width="1.1"/>
<circle cx="330.05" cy="171.8" r="1.7" fill="#fff" stroke="#000" stroke-width="1.25"/>
<line x1="338.97" y1="167" x2="338.97" y2="175" stroke="#000" stroke-width="1.1"/>
<line x1="337.07" y1="167" x2="340.87" y2="167" stroke="#000" stroke-width="1.1"/>
<line x1="337.07" y1="175" x2="340.87" y2="175" stroke="#000" stroke-width="1.1"/>
<circle cx="338.97" cy="171" r="1.7" fill="#fff" stroke="#000" stroke-width="1.25"/>
<line x1="347.9" y1="166.4" x2="347.9" y2="174.4" stroke="#000" stroke-width="1.1"/>
<line x1="346" y1="166.4" x2="349.8" y2="166.4" stroke="#000" stroke-width="1.1"/>
<line x1="346" y1="174.4" x2="349.8" y2="174.4" stroke="#000" stroke-width="1.1"/>
<circle cx="347.9" cy="170.4" r="1.7" fill="#fff" stroke="#000" stroke-width="1.25"/>
<line x1="356.82" y1="165.7" x2="356.82" y2="173.7" stroke="#000" stroke-width="1.1"/>
<line x1="354.93" y1="165.7" x2="358.72" y2="165.7" stroke="#000" stroke-width="1.1"/>
<line x1="354.93" y1="173.7" x2="358.72" y2="173.7" stroke="#000" stroke-width="1.1"/>
<circle cx="356.82" cy="169.7" r="1.7" fill="#fff" stroke="#000" stroke-width="1.25"/>
<line x1="365.75" y1="165" x2="365.75" y2="173" stroke="#000" stroke-width="1.1"/>
<line x1="363.85" y1="165" x2="367.65" y2="165" stroke="#000" stroke-width="1.1"/>
<line x1="363.85" y1="173" x2="367.65" y2="173" stroke="#000" stroke-width="1.1"/>
<circle cx="365.75" cy="169" r="1.7" fill="#fff" stroke="#000" stroke-width="1.25"/>
<line x1="374.68" y1="164.5" x2="374.68" y2="172.5" stroke="#000" stroke-width="1.1"/>
<line x1="372.78" y1="164.5" x2="376.57" y2="164.5" stroke="#000" stroke-width="1.1"/>
<line x1="372.78" y1="172.5" x2="376.57" y2="172.5" stroke="#000" stroke-width="1.1"/>
<circle cx="374.68" cy="168.5" r="1.7" fill="#fff" stroke="#000" stroke-width="1.25"/>
<line x1="383.6" y1="163.9" x2="383.6" y2="171.9" stroke="#000" stroke-width="1.1"/>
<line x1="381.7" y1="163.9" x2="385.5" y2="163.9" stroke="#000" stroke-width="1.1"/>
<line x1="381.7" y1="171.9" x2="385.5" y2="171.9" stroke="#000" stroke-width="1.1"/>
<circle cx="383.6" cy="167.9" r="1.7" fill="#fff" stroke="#000" stroke-width="1.25"/>
<line x1="392.52" y1="163.1" x2="392.52" y2="171.1" stroke="#000" stroke-width="1.1"/>
<line x1="390.62" y1="163.1" x2="394.42" y2="163.1" stroke="#000" stroke-width="1.1"/>
<line x1="390.62" y1="171.1" x2="394.42" y2="171.1" stroke="#000" stroke-width="1.1"/>
<circle cx="392.52" cy="167.1" r="1.7" fill="#fff" stroke="#000" stroke-width="1.25"/>
<line x1="401.45" y1="163.9" x2="401.45" y2="169.9" stroke="#000" stroke-width="1.1"/>
<line x1="399.55" y1="163.9" x2="403.35" y2="163.9" stroke="#000" stroke-width="1.1"/>
<line x1="399.55" y1="169.9" x2="403.35" y2="169.9" stroke="#000" stroke-width="1.1"/>
<circle cx="401.45" cy="166.9" r="1.7" fill="#fff" stroke="#000" stroke-width="1.25"/>
<line x1="410.38" y1="163.9" x2="410.38" y2="169.9" stroke="#000" stroke-width="1.1"/>
<line x1="408.48" y1="163.9" x2="412.27" y2="163.9" stroke="#000" stroke-width="1.1"/>
<line x1="408.48" y1="169.9" x2="412.27" y2="169.9" stroke="#000" stroke-width="1.1"/>
<circle cx="410.38" cy="166.9" r="1.7" fill="#fff" stroke="#000" stroke-width="1.25"/>
<line x1="419.3" y1="163.1" x2="419.3" y2="169.1" stroke="#000" stroke-width="1.1"/>
<line x1="417.4" y1="163.1" x2="421.2" y2="163.1" stroke="#000" stroke-width="1.1"/>
<line x1="417.4" y1="169.1" x2="421.2" y2="169.1" stroke="#000" stroke-width="1.1"/>
<circle cx="419.3" cy="166.1" r="1.7" fill="#fff" stroke="#000" stroke-width="1.25"/>
<line x1="428.23" y1="161.6" x2="428.23" y2="167.6" stroke="#000" stroke-width="1.1"/>
<line x1="426.33" y1="161.6" x2="430.12" y2="161.6" stroke="#000" stroke-width="1.1"/>
<line x1="426.33" y1="167.6" x2="430.12" y2="167.6" stroke="#000" stroke-width="1.1"/>
<circle cx="428.23" cy="164.6" r="1.7" fill="#fff" stroke="#000" stroke-width="1.25"/>
<line x1="437.15" y1="161.4" x2="437.15" y2="165.8" stroke="#000" stroke-width="1.1"/>
<line x1="435.25" y1="161.4" x2="439.05" y2="161.4" stroke="#000" stroke-width="1.1"/>
<line x1="435.25" y1="165.8" x2="439.05" y2="165.8" stroke="#000" stroke-width="1.1"/>
<circle cx="437.15" cy="163.6" r="1.7" fill="#fff" stroke="#000" stroke-width="1.25"/>
<line x1="446.07" y1="160.7" x2="446.07" y2="165.1" stroke="#000" stroke-width="1.1"/>
<line x1="444.18" y1="160.7" x2="447.97" y2="160.7" stroke="#000" stroke-width="1.1"/>
<line x1="444.18" y1="165.1" x2="447.97" y2="165.1" stroke="#000" stroke-width="1.1"/>
<circle cx="446.07" cy="162.9" r="1.7" fill="#fff" stroke="#000" stroke-width="1.25"/>
<line x1="455" y1="159.9" x2="455" y2="164.3" stroke="#000" stroke-width="1.1"/>
<line x1="453.1" y1="159.9" x2="456.9" y2="159.9" stroke="#000" stroke-width="1.1"/>
<line x1="453.1" y1="164.3" x2="456.9" y2="164.3" stroke="#000" stroke-width="1.1"/>
<circle cx="455" cy="162.1" r="1.7" fill="#fff" stroke="#000" stroke-width="1.25"/>
<line x1="463.93" y1="158.1" x2="463.93" y2="162.5" stroke="#000" stroke-width="1.1"/>
<line x1="462.03" y1="158.1" x2="465.82" y2="158.1" stroke="#000" stroke-width="1.1"/>
<line x1="462.03" y1="162.5" x2="465.82" y2="162.5" stroke="#000" stroke-width="1.1"/>
<circle cx="463.93" cy="160.3" r="1.7" fill="#fff" stroke="#000" stroke-width="1.25"/>
<line x1="472.85" y1="157.4" x2="472.85" y2="161.8" stroke="#000" stroke-width="1.1"/>
<line x1="470.95" y1="157.4" x2="474.75" y2="157.4" stroke="#000" stroke-width="1.1"/>
<line x1="470.95" y1="161.8" x2="474.75" y2="161.8" stroke="#000" stroke-width="1.1"/>
<circle cx="472.85" cy="159.6" r="1.7" fill="#fff" stroke="#000" stroke-width="1.25"/>
<line x1="481.77" y1="156.1" x2="481.77" y2="160.5" stroke="#000" stroke-width="1.1"/>
<line x1="479.88" y1="156.1" x2="483.67" y2="156.1" stroke="#000" stroke-width="1.1"/>
<line x1="479.88" y1="160.5" x2="483.67" y2="160.5" stroke="#000" stroke-width="1.1"/>
<circle cx="481.77" cy="158.3" r="1.7" fill="#fff" stroke="#000" stroke-width="1.25"/>
<line x1="490.7" y1="154.4" x2="490.7" y2="158.8" stroke="#000" stroke-width="1.1"/>
<line x1="488.8" y1="154.4" x2="492.6" y2="154.4" stroke="#000" stroke-width="1.1"/>
<line x1="488.8" y1="158.8" x2="492.6" y2="158.8" stroke="#000" stroke-width="1.1"/>
<circle cx="490.7" cy="156.6" r="1.7" fill="#fff" stroke="#000" stroke-width="1.25"/>
<line x1="499.62" y1="152.1" x2="499.62" y2="156.5" stroke="#000" stroke-width="1.1"/>
<line x1="497.73" y1="152.1" x2="501.52" y2="152.1" stroke="#000" stroke-width="1.1"/>
<line x1="497.73" y1="156.5" x2="501.52" y2="156.5" stroke="#000" stroke-width="1.1"/>
<circle cx="499.62" cy="154.3" r="1.7" fill="#fff" stroke="#000" stroke-width="1.25"/>
<line x1="508.55" y1="150.1" x2="508.55" y2="154.5" stroke="#000" stroke-width="1.1"/>
<line x1="506.65" y1="150.1" x2="510.45" y2="150.1" stroke="#000" stroke-width="1.1"/>
<line x1="506.65" y1="154.5" x2="510.45" y2="154.5" stroke="#000" stroke-width="1.1"/>
<circle cx="508.55" cy="152.3" r="1.7" fill="#fff" stroke="#000" stroke-width="1.25"/>
<line x1="517.48" y1="148.6" x2="517.48" y2="153" stroke="#000" stroke-width="1.1"/>
<line x1="515.58" y1="148.6" x2="519.38" y2="148.6" stroke="#000" stroke-width="1.1"/>
<line x1="515.58" y1="153" x2="519.38" y2="153" stroke="#000" stroke-width="1.1"/>
<circle cx="517.48" cy="150.8" r="1.7" fill="#fff" stroke="#000" stroke-width="1.25"/>
<polyline points="312.2,180.5 321.12,178 330.05,175.9 338.97,174.2 347.9,171.7 356.82,169.1 365.75,167.1 374.68,164.9 383.6,161.6 392.52,159.6 401.45,154.3 410.38,149.5 419.3,143.2 428.23,136.5 437.15,128.4 446.07,118.9 455,108.8 463.93,99.3 472.85,86.7 481.77,74.7 490.7,59.8 499.62,47 508.55,33.9 517.48,25.1" fill="none" stroke="#000" stroke-width="1.5" stroke-linejoin="round"/>
<line x1="312.2" y1="179" x2="312.2" y2="182" stroke="#000" stroke-width="1.15"/>
<line x1="310.4" y1="179" x2="314" y2="179" stroke="#000" stroke-width="1.15"/>
<line x1="310.4" y1="182" x2="314" y2="182" stroke="#000" stroke-width="1.15"/>
<circle cx="312.2" cy="180.5" r="2.15" fill="#000" stroke="#000" stroke-width="0.6"/>
<line x1="321.12" y1="176.5" x2="321.12" y2="179.5" stroke="#000" stroke-width="1.15"/>
<line x1="319.32" y1="176.5" x2="322.93" y2="176.5" stroke="#000" stroke-width="1.15"/>
<line x1="319.32" y1="179.5" x2="322.93" y2="179.5" stroke="#000" stroke-width="1.15"/>
<circle cx="321.12" cy="178" r="2.15" fill="#000" stroke="#000" stroke-width="0.6"/>
<line x1="330.05" y1="174.4" x2="330.05" y2="177.4" stroke="#000" stroke-width="1.15"/>
<line x1="328.25" y1="174.4" x2="331.85" y2="174.4" stroke="#000" stroke-width="1.15"/>
<line x1="328.25" y1="177.4" x2="331.85" y2="177.4" stroke="#000" stroke-width="1.15"/>
<circle cx="330.05" cy="175.9" r="2.15" fill="#000" stroke="#000" stroke-width="0.6"/>
<line x1="338.97" y1="172.7" x2="338.97" y2="175.7" stroke="#000" stroke-width="1.15"/>
<line x1="337.17" y1="172.7" x2="340.77" y2="172.7" stroke="#000" stroke-width="1.15"/>
<line x1="337.17" y1="175.7" x2="340.77" y2="175.7" stroke="#000" stroke-width="1.15"/>
<circle cx="338.97" cy="174.2" r="2.15" fill="#000" stroke="#000" stroke-width="0.6"/>
<line x1="347.9" y1="170.2" x2="347.9" y2="173.2" stroke="#000" stroke-width="1.15"/>
<line x1="346.1" y1="170.2" x2="349.7" y2="170.2" stroke="#000" stroke-width="1.15"/>
<line x1="346.1" y1="173.2" x2="349.7" y2="173.2" stroke="#000" stroke-width="1.15"/>
<circle cx="347.9" cy="171.7" r="2.15" fill="#000" stroke="#000" stroke-width="0.6"/>
<line x1="356.82" y1="167.6" x2="356.82" y2="170.6" stroke="#000" stroke-width="1.15"/>
<line x1="355.02" y1="167.6" x2="358.62" y2="167.6" stroke="#000" stroke-width="1.15"/>
<line x1="355.02" y1="170.6" x2="358.62" y2="170.6" stroke="#000" stroke-width="1.15"/>
<circle cx="356.82" cy="169.1" r="2.15" fill="#000" stroke="#000" stroke-width="0.6"/>
<line x1="365.75" y1="165.6" x2="365.75" y2="168.6" stroke="#000" stroke-width="1.15"/>
<line x1="363.95" y1="165.6" x2="367.55" y2="165.6" stroke="#000" stroke-width="1.15"/>
<line x1="363.95" y1="168.6" x2="367.55" y2="168.6" stroke="#000" stroke-width="1.15"/>
<circle cx="365.75" cy="167.1" r="2.15" fill="#000" stroke="#000" stroke-width="0.6"/>
<line x1="374.68" y1="163.4" x2="374.68" y2="166.4" stroke="#000" stroke-width="1.15"/>
<line x1="372.88" y1="163.4" x2="376.48" y2="163.4" stroke="#000" stroke-width="1.15"/>
<line x1="372.88" y1="166.4" x2="376.48" y2="166.4" stroke="#000" stroke-width="1.15"/>
<circle cx="374.68" cy="164.9" r="2.15" fill="#000" stroke="#000" stroke-width="0.6"/>
<line x1="383.6" y1="160.1" x2="383.6" y2="163.1" stroke="#000" stroke-width="1.15"/>
<line x1="381.8" y1="160.1" x2="385.4" y2="160.1" stroke="#000" stroke-width="1.15"/>
<line x1="381.8" y1="163.1" x2="385.4" y2="163.1" stroke="#000" stroke-width="1.15"/>
<circle cx="383.6" cy="161.6" r="2.15" fill="#000" stroke="#000" stroke-width="0.6"/>
<line x1="392.52" y1="158.1" x2="392.52" y2="161.1" stroke="#000" stroke-width="1.15"/>
<line x1="390.72" y1="158.1" x2="394.32" y2="158.1" stroke="#000" stroke-width="1.15"/>
<line x1="390.72" y1="161.1" x2="394.32" y2="161.1" stroke="#000" stroke-width="1.15"/>
<circle cx="392.52" cy="159.6" r="2.15" fill="#000" stroke="#000" stroke-width="0.6"/>
<line x1="401.45" y1="152.8" x2="401.45" y2="155.8" stroke="#000" stroke-width="1.15"/>
<line x1="399.65" y1="152.8" x2="403.25" y2="152.8" stroke="#000" stroke-width="1.15"/>
<line x1="399.65" y1="155.8" x2="403.25" y2="155.8" stroke="#000" stroke-width="1.15"/>
<circle cx="401.45" cy="154.3" r="2.15" fill="#000" stroke="#000" stroke-width="0.6"/>
<line x1="410.38" y1="148" x2="410.38" y2="151" stroke="#000" stroke-width="1.15"/>
<line x1="408.57" y1="148" x2="412.18" y2="148" stroke="#000" stroke-width="1.15"/>
<line x1="408.57" y1="151" x2="412.18" y2="151" stroke="#000" stroke-width="1.15"/>
<circle cx="410.38" cy="149.5" r="2.15" fill="#000" stroke="#000" stroke-width="0.6"/>
<line x1="419.3" y1="141.7" x2="419.3" y2="144.7" stroke="#000" stroke-width="1.15"/>
<line x1="417.5" y1="141.7" x2="421.1" y2="141.7" stroke="#000" stroke-width="1.15"/>
<line x1="417.5" y1="144.7" x2="421.1" y2="144.7" stroke="#000" stroke-width="1.15"/>
<circle cx="419.3" cy="143.2" r="2.15" fill="#000" stroke="#000" stroke-width="0.6"/>
<line x1="428.23" y1="135" x2="428.23" y2="138" stroke="#000" stroke-width="1.15"/>
<line x1="426.43" y1="135" x2="430.03" y2="135" stroke="#000" stroke-width="1.15"/>
<line x1="426.43" y1="138" x2="430.03" y2="138" stroke="#000" stroke-width="1.15"/>
<circle cx="428.23" cy="136.5" r="2.15" fill="#000" stroke="#000" stroke-width="0.6"/>
<line x1="437.15" y1="126.2" x2="437.15" y2="130.6" stroke="#000" stroke-width="1.15"/>
<line x1="435.35" y1="126.2" x2="438.95" y2="126.2" stroke="#000" stroke-width="1.15"/>
<line x1="435.35" y1="130.6" x2="438.95" y2="130.6" stroke="#000" stroke-width="1.15"/>
<circle cx="437.15" cy="128.4" r="2.15" fill="#000" stroke="#000" stroke-width="0.6"/>
<line x1="446.07" y1="116.3" x2="446.07" y2="121.5" stroke="#000" stroke-width="1.15"/>
<line x1="444.27" y1="116.3" x2="447.88" y2="116.3" stroke="#000" stroke-width="1.15"/>
<line x1="444.27" y1="121.5" x2="447.88" y2="121.5" stroke="#000" stroke-width="1.15"/>
<circle cx="446.07" cy="118.9" r="2.15" fill="#000" stroke="#000" stroke-width="0.6"/>
<line x1="455" y1="105.8" x2="455" y2="111.8" stroke="#000" stroke-width="1.15"/>
<line x1="453.2" y1="105.8" x2="456.8" y2="105.8" stroke="#000" stroke-width="1.15"/>
<line x1="453.2" y1="111.8" x2="456.8" y2="111.8" stroke="#000" stroke-width="1.15"/>
<circle cx="455" cy="108.8" r="2.15" fill="#000" stroke="#000" stroke-width="0.6"/>
<line x1="463.93" y1="95.7" x2="463.93" y2="102.9" stroke="#000" stroke-width="1.15"/>
<line x1="462.12" y1="95.7" x2="465.73" y2="95.7" stroke="#000" stroke-width="1.15"/>
<line x1="462.12" y1="102.9" x2="465.73" y2="102.9" stroke="#000" stroke-width="1.15"/>
<circle cx="463.93" cy="99.3" r="2.15" fill="#000" stroke="#000" stroke-width="0.6"/>
<line x1="472.85" y1="82.4" x2="472.85" y2="91" stroke="#000" stroke-width="1.15"/>
<line x1="471.05" y1="82.4" x2="474.65" y2="82.4" stroke="#000" stroke-width="1.15"/>
<line x1="471.05" y1="91" x2="474.65" y2="91" stroke="#000" stroke-width="1.15"/>
<circle cx="472.85" cy="86.7" r="2.15" fill="#000" stroke="#000" stroke-width="0.6"/>
<line x1="481.77" y1="69.7" x2="481.77" y2="79.7" stroke="#000" stroke-width="1.15"/>
<line x1="479.97" y1="69.7" x2="483.57" y2="69.7" stroke="#000" stroke-width="1.15"/>
<line x1="479.97" y1="79.7" x2="483.57" y2="79.7" stroke="#000" stroke-width="1.15"/>
<circle cx="481.77" cy="74.7" r="2.15" fill="#000" stroke="#000" stroke-width="0.6"/>
<line x1="490.7" y1="54.8" x2="490.7" y2="64.8" stroke="#000" stroke-width="1.15"/>
<line x1="488.9" y1="54.8" x2="492.5" y2="54.8" stroke="#000" stroke-width="1.15"/>
<line x1="488.9" y1="64.8" x2="492.5" y2="64.8" stroke="#000" stroke-width="1.15"/>
<circle cx="490.7" cy="59.8" r="2.15" fill="#000" stroke="#000" stroke-width="0.6"/>
<line x1="499.62" y1="41.1" x2="499.62" y2="52.9" stroke="#000" stroke-width="1.15"/>
<line x1="497.82" y1="41.1" x2="501.43" y2="41.1" stroke="#000" stroke-width="1.15"/>
<line x1="497.82" y1="52.9" x2="501.43" y2="52.9" stroke="#000" stroke-width="1.15"/>
<circle cx="499.62" cy="47" r="2.15" fill="#000" stroke="#000" stroke-width="0.6"/>
<line x1="508.55" y1="27.3" x2="508.55" y2="40.5" stroke="#000" stroke-width="1.15"/>
<line x1="506.75" y1="27.3" x2="510.35" y2="27.3" stroke="#000" stroke-width="1.15"/>
<line x1="506.75" y1="40.5" x2="510.35" y2="40.5" stroke="#000" stroke-width="1.15"/>
<circle cx="508.55" cy="33.9" r="2.15" fill="#000" stroke="#000" stroke-width="0.6"/>
<line x1="517.48" y1="19.1" x2="517.48" y2="31.1" stroke="#000" stroke-width="1.15"/>
<line x1="515.68" y1="19.1" x2="519.27" y2="19.1" stroke="#000" stroke-width="1.15"/>
<line x1="515.68" y1="31.1" x2="519.27" y2="31.1" stroke="#000" stroke-width="1.15"/>
<circle cx="517.48" cy="25.1" r="2.15" fill="#000" stroke="#000" stroke-width="0.6"/>
<polyline points="312.2,180 321.12,175.4 330.05,172.9 338.97,170.4 347.9,167.4 356.82,164.1 365.75,160.3 374.68,157.3 383.6,154.1 392.52,151.3 401.45,146 410.38,139.7 419.3,132.7 428.23,124.4 437.15,114.3 446.07,103.1 455,92.5 463.93,80 472.85,67.4 481.77,58.3 490.7,46.5 499.62,37.7 508.55,30.7 517.48,22.1" fill="none" stroke="#000" stroke-width="1.5" stroke-linejoin="round"/>
<line x1="312.2" y1="177" x2="312.2" y2="180" stroke="#000" stroke-width="1.25"/>
<line x1="310.3" y1="177" x2="314.1" y2="177" stroke="#000" stroke-width="1.25"/>
<path d="M312.2 178L314.2 180L312.2 182L310.2 180Z" fill="#fff" stroke="#000" stroke-width="1.3"/>
<line x1="321.12" y1="172.4" x2="321.12" y2="175.4" stroke="#000" stroke-width="1.25"/>
<line x1="319.23" y1="172.4" x2="323.02" y2="172.4" stroke="#000" stroke-width="1.25"/>
<path d="M321.12 173.4L323.12 175.4L321.12 177.4L319.12 175.4Z" fill="#fff" stroke="#000" stroke-width="1.3"/>
<line x1="330.05" y1="169.9" x2="330.05" y2="172.9" stroke="#000" stroke-width="1.25"/>
<line x1="328.15" y1="169.9" x2="331.95" y2="169.9" stroke="#000" stroke-width="1.25"/>
<path d="M330.05 170.9L332.05 172.9L330.05 174.9L328.05 172.9Z" fill="#fff" stroke="#000" stroke-width="1.3"/>
<line x1="338.97" y1="167.4" x2="338.97" y2="170.4" stroke="#000" stroke-width="1.25"/>
<line x1="337.07" y1="167.4" x2="340.87" y2="167.4" stroke="#000" stroke-width="1.25"/>
<path d="M338.97 168.4L340.97 170.4L338.97 172.4L336.97 170.4Z" fill="#fff" stroke="#000" stroke-width="1.3"/>
<line x1="347.9" y1="164.4" x2="347.9" y2="167.4" stroke="#000" stroke-width="1.25"/>
<line x1="346" y1="164.4" x2="349.8" y2="164.4" stroke="#000" stroke-width="1.25"/>
<path d="M347.9 165.4L349.9 167.4L347.9 169.4L345.9 167.4Z" fill="#fff" stroke="#000" stroke-width="1.3"/>
<line x1="356.82" y1="160.9" x2="356.82" y2="164.1" stroke="#000" stroke-width="1.25"/>
<line x1="354.93" y1="160.9" x2="358.72" y2="160.9" stroke="#000" stroke-width="1.25"/>
<path d="M356.82 162.1L358.82 164.1L356.82 166.1L354.82 164.1Z" fill="#fff" stroke="#000" stroke-width="1.3"/>
<line x1="365.75" y1="156.9" x2="365.75" y2="160.3" stroke="#000" stroke-width="1.25"/>
<line x1="363.85" y1="156.9" x2="367.65" y2="156.9" stroke="#000" stroke-width="1.25"/>
<path d="M365.75 158.3L367.75 160.3L365.75 162.3L363.75 160.3Z" fill="#fff" stroke="#000" stroke-width="1.3"/>
<line x1="374.68" y1="153.7" x2="374.68" y2="157.3" stroke="#000" stroke-width="1.25"/>
<line x1="372.78" y1="153.7" x2="376.57" y2="153.7" stroke="#000" stroke-width="1.25"/>
<path d="M374.68 155.3L376.68 157.3L374.68 159.3L372.68 157.3Z" fill="#fff" stroke="#000" stroke-width="1.3"/>
<line x1="383.6" y1="150.3" x2="383.6" y2="154.1" stroke="#000" stroke-width="1.25"/>
<line x1="381.7" y1="150.3" x2="385.5" y2="150.3" stroke="#000" stroke-width="1.25"/>
<path d="M383.6 152.1L385.6 154.1L383.6 156.1L381.6 154.1Z" fill="#fff" stroke="#000" stroke-width="1.3"/>
<line x1="392.52" y1="147.3" x2="392.52" y2="151.3" stroke="#000" stroke-width="1.25"/>
<line x1="390.62" y1="147.3" x2="394.42" y2="147.3" stroke="#000" stroke-width="1.25"/>
<path d="M392.52 149.3L394.52 151.3L392.52 153.3L390.52 151.3Z" fill="#fff" stroke="#000" stroke-width="1.3"/>
<line x1="401.45" y1="141.5" x2="401.45" y2="146" stroke="#000" stroke-width="1.25"/>
<line x1="399.55" y1="141.5" x2="403.35" y2="141.5" stroke="#000" stroke-width="1.25"/>
<path d="M401.45 144L403.45 146L401.45 148L399.45 146Z" fill="#fff" stroke="#000" stroke-width="1.3"/>
<line x1="410.38" y1="133.9" x2="410.38" y2="139.7" stroke="#000" stroke-width="1.25"/>
<line x1="408.48" y1="133.9" x2="412.27" y2="133.9" stroke="#000" stroke-width="1.25"/>
<path d="M410.38 137.7L412.38 139.7L410.38 141.7L408.38 139.7Z" fill="#fff" stroke="#000" stroke-width="1.3"/>
<line x1="419.3" y1="125.6" x2="419.3" y2="132.7" stroke="#000" stroke-width="1.25"/>
<line x1="417.4" y1="125.6" x2="421.2" y2="125.6" stroke="#000" stroke-width="1.25"/>
<path d="M419.3 130.7L421.3 132.7L419.3 134.7L417.3 132.7Z" fill="#fff" stroke="#000" stroke-width="1.3"/>
<line x1="428.23" y1="116.3" x2="428.23" y2="124.4" stroke="#000" stroke-width="1.25"/>
<line x1="426.33" y1="116.3" x2="430.12" y2="116.3" stroke="#000" stroke-width="1.25"/>
<path d="M428.23 122.4L430.23 124.4L428.23 126.4L426.23 124.4Z" fill="#fff" stroke="#000" stroke-width="1.3"/>
<line x1="437.15" y1="105.5" x2="437.15" y2="114.3" stroke="#000" stroke-width="1.25"/>
<line x1="435.25" y1="105.5" x2="439.05" y2="105.5" stroke="#000" stroke-width="1.25"/>
<path d="M437.15 112.3L439.15 114.3L437.15 116.3L435.15 114.3Z" fill="#fff" stroke="#000" stroke-width="1.3"/>
<line x1="446.07" y1="93.8" x2="446.07" y2="103.1" stroke="#000" stroke-width="1.25"/>
<line x1="444.18" y1="93.8" x2="447.97" y2="93.8" stroke="#000" stroke-width="1.25"/>
<path d="M446.07 101.1L448.07 103.1L446.07 105.1L444.07 103.1Z" fill="#fff" stroke="#000" stroke-width="1.3"/>
<line x1="455" y1="80.5" x2="455" y2="92.5" stroke="#000" stroke-width="1.25"/>
<line x1="453.1" y1="80.5" x2="456.9" y2="80.5" stroke="#000" stroke-width="1.25"/>
<path d="M455 90.5L457 92.5L455 94.5L453 92.5Z" fill="#fff" stroke="#000" stroke-width="1.3"/>
<line x1="463.93" y1="65.9" x2="463.93" y2="80" stroke="#000" stroke-width="1.25"/>
<line x1="462.03" y1="65.9" x2="465.82" y2="65.9" stroke="#000" stroke-width="1.25"/>
<path d="M463.93 78L465.93 80L463.93 82L461.93 80Z" fill="#fff" stroke="#000" stroke-width="1.3"/>
<line x1="472.85" y1="52.3" x2="472.85" y2="67.4" stroke="#000" stroke-width="1.25"/>
<line x1="470.95" y1="52.3" x2="474.75" y2="52.3" stroke="#000" stroke-width="1.25"/>
<path d="M472.85 65.4L474.85 67.4L472.85 69.4L470.85 67.4Z" fill="#fff" stroke="#000" stroke-width="1.3"/>
<line x1="481.77" y1="44" x2="481.77" y2="58.3" stroke="#000" stroke-width="1.25"/>
<line x1="479.88" y1="44" x2="483.67" y2="44" stroke="#000" stroke-width="1.25"/>
<path d="M481.77 56.3L483.77 58.3L481.77 60.3L479.77 58.3Z" fill="#fff" stroke="#000" stroke-width="1.3"/>
<line x1="490.7" y1="30.7" x2="490.7" y2="46.5" stroke="#000" stroke-width="1.25"/>
<line x1="488.8" y1="30.7" x2="492.6" y2="30.7" stroke="#000" stroke-width="1.25"/>
<path d="M490.7 44.5L492.7 46.5L490.7 48.5L488.7 46.5Z" fill="#fff" stroke="#000" stroke-width="1.3"/>
<line x1="499.62" y1="22.6" x2="499.62" y2="37.7" stroke="#000" stroke-width="1.25"/>
<line x1="497.73" y1="22.6" x2="501.52" y2="22.6" stroke="#000" stroke-width="1.25"/>
<path d="M499.62 35.7L501.62 37.7L499.62 39.7L497.62 37.7Z" fill="#fff" stroke="#000" stroke-width="1.3"/>
<line x1="508.55" y1="17.1" x2="508.55" y2="30.7" stroke="#000" stroke-width="1.25"/>
<line x1="506.65" y1="17.1" x2="510.45" y2="17.1" stroke="#000" stroke-width="1.25"/>
<path d="M508.55 28.7L510.55 30.7L508.55 32.7L506.55 30.7Z" fill="#fff" stroke="#000" stroke-width="1.3"/>
<line x1="517.48" y1="11.3" x2="517.48" y2="22.1" stroke="#000" stroke-width="1.25"/>
<line x1="515.58" y1="11.3" x2="519.38" y2="11.3" stroke="#000" stroke-width="1.25"/>
<path d="M517.48 20.1L519.48 22.1L517.48 24.1L515.48 22.1Z" fill="#fff" stroke="#000" stroke-width="1.3"/>
<text x="1.4" y="251.1" font-size="17" text-anchor="start" font-weight="bold" >C</text>
<line x1="47.7" y1="258" x2="47.7" y2="445.6" stroke="#000" stroke-width="1.5"/>
<line x1="47.1" y1="445" x2="236.2" y2="445" stroke="#000" stroke-width="1.3"/>
<line x1="44.1" y1="445" x2="47.7" y2="445" stroke="#000" stroke-width="1.3"/>
<text transform="translate(41.2 447.7) scale(0.9 1)" font-size="10.3" text-anchor="end">0</text>
<line x1="44.1" y1="421.7" x2="47.7" y2="421.7" stroke="#000" stroke-width="1.3"/>
<text transform="translate(41.2 424.4) scale(0.9 1)" font-size="10.3" text-anchor="end">20</text>
<line x1="44.1" y1="398.4" x2="47.7" y2="398.4" stroke="#000" stroke-width="1.3"/>
<text transform="translate(41.2 401.1) scale(0.9 1)" font-size="10.3" text-anchor="end">40</text>
<line x1="44.1" y1="375.1" x2="47.7" y2="375.1" stroke="#000" stroke-width="1.3"/>
<text transform="translate(41.2 377.8) scale(0.9 1)" font-size="10.3" text-anchor="end">60</text>
<line x1="44.1" y1="351.8" x2="47.7" y2="351.8" stroke="#000" stroke-width="1.3"/>
<text transform="translate(41.2 354.5) scale(0.9 1)" font-size="10.3" text-anchor="end">80</text>
<line x1="44.1" y1="328.5" x2="47.7" y2="328.5" stroke="#000" stroke-width="1.3"/>
<text transform="translate(41.2 331.2) scale(0.9 1)" font-size="10.3" text-anchor="end">100</text>
<line x1="44.1" y1="305.2" x2="47.7" y2="305.2" stroke="#000" stroke-width="1.3"/>
<text transform="translate(41.2 307.9) scale(0.9 1)" font-size="10.3" text-anchor="end">120</text>
<line x1="44.1" y1="281.9" x2="47.7" y2="281.9" stroke="#000" stroke-width="1.3"/>
<text transform="translate(41.2 284.6) scale(0.9 1)" font-size="10.3" text-anchor="end">140</text>
<line x1="44.1" y1="258.6" x2="47.7" y2="258.6" stroke="#000" stroke-width="1.3"/>
<text transform="translate(41.2 261.3) scale(0.9 1)" font-size="10.3" text-anchor="end">160</text>
<text transform="translate(16.4 352.9) rotate(-90)" font-size="10" text-anchor="middle">PI<tspan font-size="7" dy="-3.6">+</tspan><tspan dy="3.6"> Cells (IAUC %Tg)</tspan></text>
<line x1="63.5" y1="420.3" x2="63.5" y2="424.1" stroke="#000" stroke-width="1.1"/>
<line x1="60.1" y1="420.3" x2="66.9" y2="420.3" stroke="#000" stroke-width="1.1"/>
<rect x="52.3" y="424.1" width="22.4" height="20.9" fill="#000"/>
<line x1="94.65" y1="406.5" x2="94.65" y2="411.3" stroke="#000" stroke-width="1.1"/>
<line x1="91.25" y1="406.5" x2="98.05" y2="406.5" stroke="#000" stroke-width="1.1"/>
<rect x="83.7" y="411.3" width="21.9" height="33.7" fill="#000"/>
<line x1="126.15" y1="428.9" x2="126.15" y2="430.9" stroke="#000" stroke-width="1.1"/>
<line x1="122.75" y1="428.9" x2="129.55" y2="428.9" stroke="#000" stroke-width="1.1"/>
<rect x="115.2" y="430.9" width="21.9" height="14.1" fill="#000"/>
<rect x="147.4" y="329" width="20.6" height="116" fill="#fff" stroke="#000" stroke-width="1.1"/>
<line x1="189.15" y1="263.2" x2="189.15" y2="282.3" stroke="#000" stroke-width="1.1"/>
<line x1="185.75" y1="263.2" x2="192.55" y2="263.2" stroke="#000" stroke-width="1.1"/>
<rect x="178.3" y="282.3" width="21.7" height="162.7" fill="#000"/>
<line x1="220.6" y1="314.4" x2="220.6" y2="315" stroke="#000" stroke-width="1.1"/>
<line x1="217.2" y1="314.4" x2="224" y2="314.4" stroke="#000" stroke-width="1.1"/>
<rect x="209.8" y="315" width="21.6" height="130" fill="#000"/>
<text x="157.6" y="325.3" font-size="10" text-anchor="middle" font-weight="normal" >#</text>
<text x="190.6" y="257.3" font-size="10" text-anchor="middle">#<tspan font-size="7.5" dy="-0.6" dx="2.6">★</tspan></text>
<text x="221.3" y="310.3" font-size="10" text-anchor="middle">#<tspan font-size="7.5" dy="-0.6" dx="2.6">★</tspan></text>
<text x="52.8" y="458.4" font-size="9.85" text-anchor="end" font-weight="normal" >100 µM Cch</text>
<text x="52.8" y="470.3" font-size="9.85" text-anchor="end" font-weight="normal" >1 nM Ry</text>
<text x="52.8" y="481.5" font-size="9.85" text-anchor="end" font-weight="normal" >1 µM Tg</text>
<text x="94.1" y="458.22" font-size="9.6" text-anchor="middle" style="stroke-width:0.5px">+</text>
<text x="188.6" y="458.42" font-size="9.6" text-anchor="middle" style="stroke-width:0.5px">+</text>
<text x="125.2" y="469.72" font-size="9.6" text-anchor="middle" style="stroke-width:0.5px">+</text>
<text x="219.9" y="470.52" font-size="9.6" text-anchor="middle" style="stroke-width:0.5px">+</text>
<text x="156.6" y="482.62" font-size="9.6" text-anchor="middle" style="stroke-width:0.5px">+</text>
<text x="188.6" y="482.62" font-size="9.6" text-anchor="middle" style="stroke-width:0.5px">+</text>
<text x="219.9" y="482.62" font-size="9.6" text-anchor="middle" style="stroke-width:0.5px">+</text>
<text x="260.1" y="250.8" font-size="17" text-anchor="start" font-weight="bold" >D</text>
<rect x="304.4" y="238.0" width="136.5" height="38.6" fill="#e7e7e7"/>
<rect x="304.4" y="238.0" width="136.5" height="38.6" fill="#888" filter="url(#nz)" opacity="0.35"/>
<rect x="304.4" y="281.2" width="136.5" height="22.8" fill="url(#ag)"/>
<g clip-path="url(#c1)"><g filter="url(#b2)">
<rect x="413" y="262" width="25" height="15" fill="#d2d2d2" opacity="0.9"/>
<rect x="412" y="240" width="26" height="12" fill="#dcdcdc" opacity="0.8"/>
<rect x="346.8" y="252.8" width="21.6" height="7.6" rx="2.6" fill="#adadad"/>
<ellipse cx="364" cy="256.8" rx="4" ry="3" fill="#999" opacity="0.7"/>
<ellipse cx="387" cy="259.5" rx="6.6" ry="2.3" fill="#111"/>
<ellipse cx="397" cy="259.5" rx="6" ry="2.5" fill="#0a0a0a"/>
<rect x="384" y="258.3" width="14" height="2.4" fill="#444"/>
<ellipse cx="425.3" cy="254.2" rx="11" ry="4.2" fill="#5a5a5a" opacity="0.85"/>
<rect x="413.8" y="254.8" width="23.4" height="9.6" rx="4.6" fill="#000"/>
<rect x="416" y="256" width="19" height="7.4" rx="3.6" fill="#000"/>
</g></g>
<g clip-path="url(#c2)"><g filter="url(#b2)">
<rect x="304" y="286.5" width="137" height="10.5" fill="#8e8e8e" opacity="0.55"/>
<ellipse cx="321" cy="296.0" rx="13" ry="3.4" fill="#666" opacity="0.8"/>
<rect x="305.6" y="288.4" width="32" height="6.4" rx="3" fill="#161616"/>
<rect x="308" y="289.6" width="22" height="4.2" rx="2.1" fill="#050505"/>
<rect x="341" y="287.8" width="30" height="7.6" rx="3.8" fill="#000"/>
<rect x="344" y="288.8" width="24" height="5.6" rx="2.8" fill="#000"/>
<ellipse cx="339.4" cy="290.8" rx="4" ry="2" fill="#222"/>
<rect x="377.6" y="288.5" width="26.4" height="6.8" rx="3.4" fill="#000"/>
<rect x="380.5" y="289.4" width="20.5" height="5" rx="2.5" fill="#000"/>
<rect x="410" y="288.8" width="27.2" height="6.6" rx="3.3" fill="#000"/>
<rect x="413" y="289.7" width="21" height="4.8" rx="2.4" fill="#000"/>
</g></g>
<rect x="304.4" y="238.0" width="136.5" height="38.6" fill="none" stroke="#000" stroke-width="1.5"/>
<rect x="304.4" y="281.2" width="136.5" height="22.8" fill="none" stroke="#000" stroke-width="1.5"/>
<text x="282.8" y="264.5" font-size="10" text-anchor="end" font-weight="normal" >CHOP</text>
<text x="282.8" y="296" font-size="10" text-anchor="end" font-weight="normal" >Actin</text>
<line x1="287.3" y1="260.6" x2="297" y2="260.6" stroke="#000" stroke-width="1.5"/>
<path d="M300.6 260.6L294.3 257.2L295.3 260.6L294.3 264Z" fill="#000"/>
<line x1="287.3" y1="292.2" x2="297" y2="292.2" stroke="#000" stroke-width="1.5"/>
<path d="M300.6 292.2L294.3 288.8L295.3 292.2L294.3 295.6Z" fill="#000"/>
<text x="301.3" y="315.4" font-size="9.85" text-anchor="end" font-weight="normal" >100 µM Cch</text>
<text x="302.3" y="330.2" font-size="9.85" text-anchor="end" font-weight="normal" >1 µM Tg</text>
<text x="357.6" y="316.72" font-size="9.6" text-anchor="middle" style="stroke-width:0.5px">+</text>
<text x="422.2" y="316.72" font-size="9.6" text-anchor="middle" style="stroke-width:0.5px">+</text>
<text x="391.4" y="330.82" font-size="9.6" text-anchor="middle" style="stroke-width:0.5px">+</text>
<text x="422.2" y="330.82" font-size="9.6" text-anchor="middle" style="stroke-width:0.5px">+</text>
<text x="260" y="361.7" font-size="17" text-anchor="start" font-weight="bold" >E</text>
<line x1="304.6" y1="361" x2="304.6" y2="449.6" stroke="#000" stroke-width="1.5"/>
<line x1="304" y1="449" x2="440.2" y2="449" stroke="#000" stroke-width="1.3"/>
<line x1="302.2" y1="449" x2="304.6" y2="449" stroke="#000" stroke-width="1.0"/>
<text transform="translate(300 452.6) scale(0.88 1)" font-size="10.2" text-anchor="end">0</text>
<line x1="302.2" y1="427.15" x2="304.6" y2="427.15" stroke="#000" stroke-width="1.0"/>
<text transform="translate(300 430.75) scale(0.88 1)" font-size="10.2" text-anchor="end">40</text>
<line x1="302.2" y1="405.3" x2="304.6" y2="405.3" stroke="#000" stroke-width="1.0"/>
<text transform="translate(300 408.9) scale(0.88 1)" font-size="10.2" text-anchor="end">80</text>
<line x1="302.2" y1="383.45" x2="304.6" y2="383.45" stroke="#000" stroke-width="1.0"/>
<text transform="translate(300 387.05) scale(0.88 1)" font-size="10.2" text-anchor="end">120</text>
<line x1="302.2" y1="361.6" x2="304.6" y2="361.6" stroke="#000" stroke-width="1.0"/>
<text transform="translate(300 365.2) scale(0.88 1)" font-size="10.2" text-anchor="end">160</text>
<text transform="translate(280.9 410.8) rotate(-90)" font-size="10" text-anchor="middle">CHOP/Actin (%Tg)</text>
<line x1="326.5" y1="439.2" x2="326.5" y2="440.7" stroke="#000" stroke-width="1.1"/>
<line x1="324.2" y1="439.2" x2="328.8" y2="439.2" stroke="#000" stroke-width="1.2"/>
<rect x="315.3" y="440.7" width="22.4" height="8.3" fill="#000"/>
<line x1="359.4" y1="428.8" x2="359.4" y2="431.2" stroke="#000" stroke-width="1.1"/>
<line x1="357.1" y1="428.8" x2="361.7" y2="428.8" stroke="#000" stroke-width="1.2"/>
<rect x="348.2" y="431.2" width="22.4" height="17.8" fill="#000"/>
<rect x="381.5" y="394.9" width="20.6" height="54.1" fill="#fff" stroke="#000" stroke-width="1.1"/>
<line x1="423.6" y1="357.6" x2="423.6" y2="365" stroke="#000" stroke-width="1.1"/>
<line x1="421.3" y1="357.6" x2="425.9" y2="357.6" stroke="#000" stroke-width="1.2"/>
<rect x="412.4" y="365" width="22.4" height="84" fill="#000"/>
<text x="359.3" y="424.2" font-size="10" text-anchor="middle" font-weight="normal" >#</text>
<text x="391.6" y="389.2" font-size="10" text-anchor="middle" font-weight="normal" >#</text>
<text x="423.2" y="353.8" font-size="10" text-anchor="middle">#<tspan font-size="7.5" dy="-0.6" dx="2.6">★</tspan></text>
<text x="301.6" y="465.1" font-size="9.85" text-anchor="end" font-weight="normal" >100 µM Cch</text>
<text x="302.2" y="479.8" font-size="9.85" text-anchor="end" font-weight="normal" >1 µM Tg</text>
<text x="358.3" y="464.92" font-size="9.6" text-anchor="middle" style="stroke-width:0.5px">+</text>
<text x="424" y="464.92" font-size="9.6" text-anchor="middle" style="stroke-width:0.5px">+</text>
<text x="392.8" y="479.52" font-size="9.6" text-anchor="middle" style="stroke-width:0.5px">+</text>
<text x="424" y="479.52" font-size="9.6" text-anchor="middle" style="stroke-width:0.5px">+</text>
</svg>
</body></html>
